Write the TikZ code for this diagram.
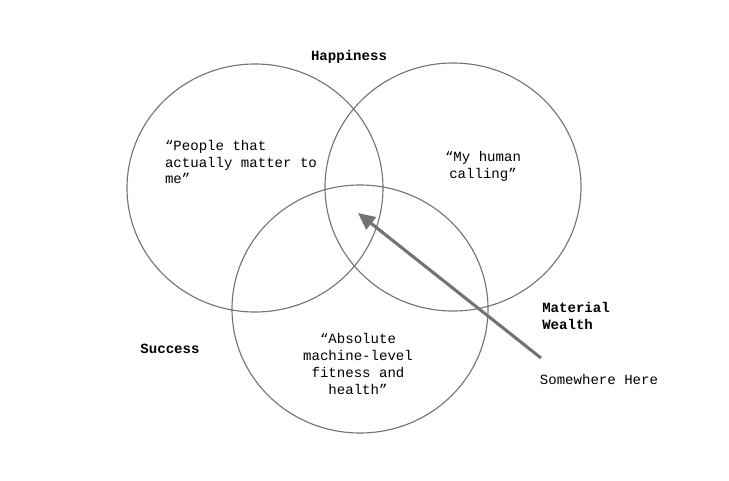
\documentclass[tikz,border=0pt]{standalone}
\usepackage{fontspec}
\setmainfont{Liberation Mono}
\usetikzlibrary{arrows.meta}
\tikzset{
  ring/.style={draw=black!55, line width=0.8pt},
  title/.style={font=\bfseries\fontsize{10}{12}\selectfont},
  quote/.style={font=\fontsize{10}{12}\selectfont, align=center},
}
\begin{document}
\begin{tikzpicture}[x=0.025cm,y=-0.025cm]
		\useasboundingbox (0,0) rectangle (729,480);
		%circles
		\draw[ring] (255,188) ellipse [x radius=128, y radius=124];
		\draw[ring] (453,187) ellipse [x radius=128, y radius=124];
		\draw[ring] (360,309) ellipse [x radius=128, y radius=124];
		
		\node[title] (happy) at (349,57) {Happiness};
		\node[title] (success) at (170,349) {Success};
		\node[title, align=left] (wealth) at (576,316) {Material\\Wealth};
		
		\node[quote, align=left] (people) at (241,162) {“People that\\actually matter to\\me”};
		\node[quote] (calling) at (483,166) {“My human\\calling”};
		\node[quote] (fitness) at (358,364) {“Absolute\\machine-level\\fitness and\\health”};
		
		\node[quote] (here) at (599,379) {Somewhere Here};
		\coordinate (tail) at (541,358);
		\coordinate (spot) at (358,213);
		\draw[black!55, line width=2.2pt, -{Triangle[length=12pt,width=11pt]}] (tail) -- (spot);
\end{tikzpicture}
\end{document}
